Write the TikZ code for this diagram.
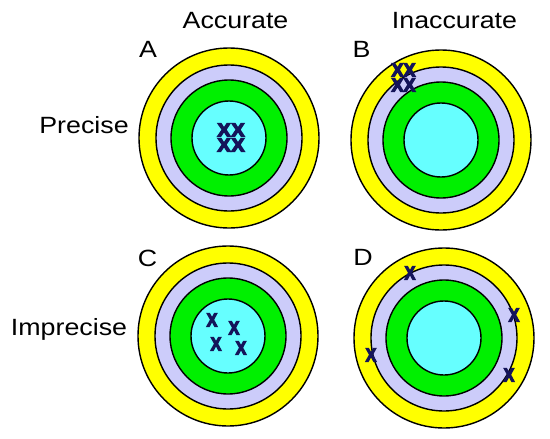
\documentclass[tikz,border=0pt]{standalone}
\usepackage{fontspec}
\setmainfont{Liberation Sans}
\newfontfamily\markfont{Liberation Sans}
\definecolor{ylw}{HTML}{FFFF00}
\definecolor{lav}{HTML}{CCCCFA}
\definecolor{grn}{HTML}{00F000}
\definecolor{cyn}{HTML}{66FFFF}
\definecolor{navy}{HTML}{14145A}
\tikzset{
  ring/.style={draw=black,line width=1.4pt},
  lbl/.style={inner sep=0pt,font=\fontsize{23.5}{26}\selectfont},
  mk/.style={inner sep=0pt,text=navy,font=\markfont\bfseries\fontsize{18.5}{20}\selectfont},
}
\newcommand{\target}[2]{%
  \fill[ring,fill=ylw] (#1,#2) circle (90);
  \fill[ring,fill=lav] (#1,#2) circle (73);
  \fill[ring,fill=grn] (#1,#2) circle (58);
  \fill[ring,fill=cyn] (#1,#2) circle (37);
}
\newcommand{\mx}[1][0.85]{\special{pdf:literal direct q 2 Tr 1.3 w}\scalebox{#1}[1]{X}\special{pdf:literal direct 0 Tr Q}}
\begin{document}
\begin{tikzpicture}[x=1pt,y=-1pt]
\useasboundingbox[fill=white] (0,0) rectangle (550,439);
\target{229}{138}
\target{441}{140}
\target{228}{336}
\target{444}{338}
% headings
\node[lbl,anchor=base] (acc) at (235.5,28) {\scalebox{1.14}[1]{Accurate}};
\node[lbl,anchor=base] (inacc) at (454.5,28) {\scalebox{1.14}[1]{Inaccurate}};
\node[lbl,anchor=base] (prec) at (84,133) {\scalebox{1.14}[1]{Precise}};
\node[lbl,anchor=base] (imprec) at (69,335) {\scalebox{1.14}[1]{Imprecise}};
\node[lbl,anchor=base] (la) at (148,57) {\scalebox{1.14}[1]{A}};
\node[lbl,anchor=base] (lb) at (361.5,57) {\scalebox{1.14}[1]{B}};
\node[lbl,anchor=base] (lc) at (147.5,266) {\scalebox{1.14}[1]{C}};
\node[lbl,anchor=base] (ld) at (363,265) {\scalebox{1.14}[1]{D}};
% marks A
\node[mk] (a1) at (224,130) {\mx[1.05]};
\node[mk] (a2) at (238,130) {\mx[1.05]};
\node[mk] (a3) at (224,145) {\mx[1.05]};
\node[mk] (a4) at (238,145) {\mx[1.05]};
% marks B
\node[mk] (b1) at (397.5,70) {\mx[0.95]};
\node[mk] (b2) at (409.5,70) {\mx[0.95]};
\node[mk] (b3) at (397.5,85) {\mx[0.95]};
\node[mk] (b4) at (409.5,85) {\mx[0.95]};
% marks C
\node[mk] (c1) at (212,320) {\mx};
\node[mk] (c2) at (234,328) {\mx};
\node[mk] (c3) at (216,344) {\mx};
\node[mk] (c4) at (241,348) {\mx};
% marks D
\node[mk] (d1) at (410,273) {\mx};
\node[mk] (d2) at (514,315) {\mx};
\node[mk] (d3) at (371,355) {\mx};
\node[mk] (d4) at (509,375) {\mx};
\end{tikzpicture}
\end{document}
